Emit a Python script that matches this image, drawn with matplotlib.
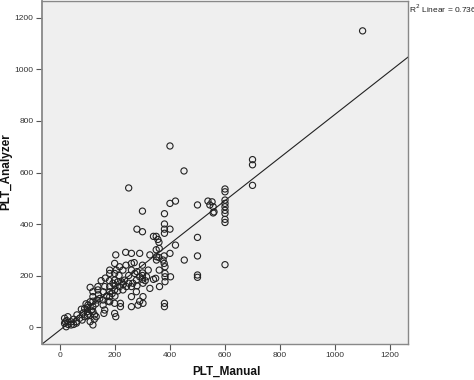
import matplotlib
matplotlib.use("Agg")
import matplotlib.pyplot as plt

plt.rcParams['font.family'] = ['Liberation Sans', 'DejaVu Sans']

# (manual, analyzer) pairs
manual = [17, 29, 17, 23, 41, 20, 30, 25, 41, 50, 60, 72, 81, 62, 78, 60, 50, 90, 85, 100, 100, 95, 100,
          110, 138, 138, 120, 120, 110, 102, 90, 120, 120, 126, 110, 120, 132, 145, 157, 163, 157, 157, 163, 160,
          120, 130, 115, 140, 150, 165, 170, 175, 125, 105, 135,
          181, 181, 199, 203, 199, 205, 199, 193, 181, 181, 181, 181, 199, 217, 199, 199, 203, 220, 220, 229, 235,
          242, 229, 217, 239, 200, 210, 200, 215, 225, 190, 210, 230, 180, 240,
          260, 260, 260, 260, 290, 272, 260, 260, 284, 302, 302, 278, 290, 278, 315, 321, 327, 302, 327, 250, 250,
          270, 280, 300, 300, 300, 290, 250, 265, 310, 280, 300,
          348, 340, 362, 361, 351, 351, 375, 382, 382, 382, 382, 380, 380, 402, 379, 379, 340, 350, 356, 360, 361,
          420, 400, 380, 380, 380, 400, 380, 280, 300, 300, 400, 420, 400, 451, 350, 360,
          452, 500, 500, 500, 500, 500, 600, 600, 600, 600, 600, 600, 600, 600, 600, 600, 545, 557, 557, 538, 553,
          560, 700, 700, 700, 1100]
analyzer = [34, 40, 14, 1, 8, 20, 10, 25, 20, 30, 21, 34, 27, 47, 69, 15, 10, 40, 55, 60, 45, 90, 75,
            154, 157, 144, 137, 118, 98, 85, 72, 79, 60, 47, 21, 8, 40, 111, 137, 157, 105, 85, 66, 53,
            100, 90, 65, 125, 180, 190, 120, 100, 30, 50, 105,
            221, 208, 247, 280, 208, 221, 182, 170, 157, 137, 118, 98, 144, 157, 92, 53, 40, 92, 79, 144, 182,
            157, 221, 234, 290, 160, 175, 120, 200, 175, 130, 140, 165, 180, 240,
            286, 247, 221, 157, 286, 208, 118, 79, 85, 92, 118, 137, 195, 182, 195, 221, 150, 170, 280, 540, 170,
            250, 215, 200, 240, 210, 100, 200, 170, 180, 160, 185,
            189, 185, 157, 221, 273, 260, 260, 234, 208, 195, 176, 92, 79, 195, 276, 247, 352, 352, 340, 329, 305,
            318, 286, 440, 400, 380, 380, 364, 380, 370, 450, 480, 489, 703, 606, 300, 270,
            260, 474, 348, 276, 202, 193, 242, 418, 406, 467, 453, 441, 480, 493, 525, 536, 474, 467, 443, 489, 486,
            447, 650, 630, 550, 1150]

fit_slope = 0.838
fit_intercept = -12.0
r2_label = "R$^2$ Linear = 0.736"
ticks = [0, 200, 400, 600, 800, 1000, 1200]

fig = plt.figure(figsize=(4.74, 3.80), dpi=100)
ax = fig.add_axes([42/474, 36/380, 366/474, 343/380])
ax.set_facecolor('#efefef')

xlim = (-65, 1265)
ylim = (-66, 1266)
ax.plot(xlim, [fit_intercept + fit_slope*x for x in xlim], color='#222222', lw=0.8, zorder=2)
ax.scatter(manual, analyzer, s=20, facecolors='none', edgecolors='#222222', linewidths=0.8, zorder=3)

ax.set_xlim(*xlim)
ax.set_ylim(*ylim)
ax.set_xticks(ticks)
ax.set_yticks(ticks)
ax.tick_params(axis='both', direction='out', length=4, width=0.8, colors='#555555',
               labelsize=6, labelcolor='#333333', pad=2)
for s in ax.spines.values():
    s.set_color('#888888')
    s.set_linewidth(1.0)
ax.spines['left'].set_linewidth(1.3)

fig.text(226/474, 1 - 372/380, 'PLT_Manual', fontsize=8.5, fontweight='bold',
         ha='center', va='center', color='#111111')
fig.text(6/474, 1 - 172/380, 'PLT_Analyzer', fontsize=8.5, fontweight='bold',
         ha='center', va='center', rotation=90, color='#111111')

fig.text(409/474, 1 - 9/380, r2_label, fontsize=6, ha='left', va='center', color='#222222')

fig.savefig('out.png', dpi=100)
